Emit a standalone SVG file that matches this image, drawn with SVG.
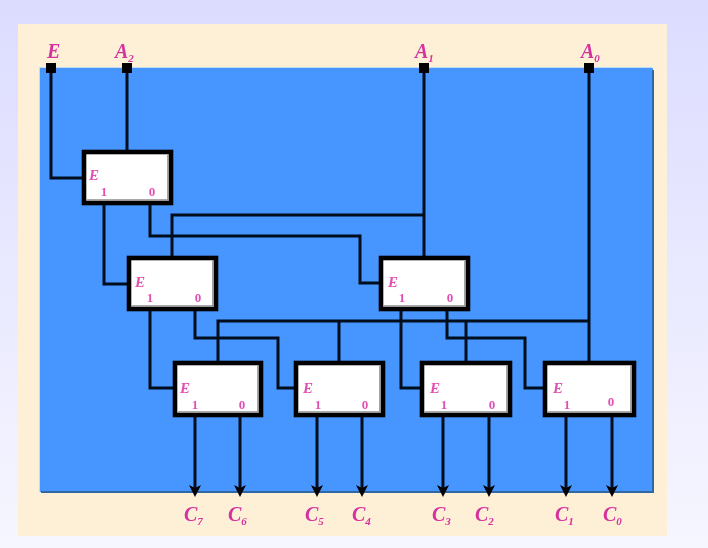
<svg xmlns="http://www.w3.org/2000/svg" width="708" height="548" viewBox="0 0 708 548">
<style>
.w{fill:none;stroke:#030c1e;stroke-width:3;stroke-linejoin:miter}
.o{fill:none;stroke:#030c1e;stroke-width:3}
.b{fill:#fff;stroke:#030303;stroke-width:4.600}
.h{fill:none;stroke:#8f8f8f;stroke-width:1.600}
.t{font-family:"Liberation Serif",serif;font-style:italic;font-weight:bold;fill:#d6339f}
.lab{font-size:20px}
.sub{font-size:11px}
.e{font-size:15px;fill:#e250b2}
.n{font-family:"Liberation Serif",serif;font-weight:bold;font-size:13px;fill:#e250b2;text-anchor:middle}
</style>
<defs>
<linearGradient id="bg" x1="0" y1="0" x2="0" y2="1"><stop offset="0" stop-color="#dcdcff"/><stop offset="1" stop-color="#f6f6ff"/></linearGradient>
<filter id="soft" x="0" y="0" width="1" height="1"><feGaussianBlur stdDeviation="0.5"/></filter>
<g id="arr"><path d="M-6 -12L0 -9L6 -12L1.500 -3L0 0L-1.500 -3Z" fill="#030303"/></g>
</defs>
<rect width="708" height="548" fill="url(#bg)"/>
<g filter="url(#soft)">
<rect x="18" y="24" width="649" height="512" fill="#fdf0d6"/>
<rect x="40" y="68" width="613" height="424" fill="#4696ff"/>
<path d="M39.500 492V67.500H652" fill="none" stroke="#c0dcf2" stroke-width="1"/>
<path d="M653 70V492H41" fill="none" stroke="#2f68a5" stroke-width="2"/>

<g id="connectors">
<path class="w" d="M51 68V178H84"/>
<path class="w" d="M127 68V152"/>
<path class="w" d="M424 68V258"/>
<path class="w" d="M589 68V362"/>
<path class="w" d="M424 215H172V258"/>
<path class="w" d="M104 204V284H129"/>
<path class="w" d="M150 204V236H360V283H381"/>
<path class="w" d="M150 310V388H175"/>
<path class="w" d="M195 310V338H278V388H296"/>
<path class="w" d="M589 321H218V362"/>
<path class="w" d="M339 321V362"/>
<path class="w" d="M466 321V362"/>
<path class="w" d="M401 310V388H422"/>
<path class="w" d="M447 310V338H525V388H545"/>
<path class="o" d="M195 416V490"/><use href="#arr" x="195" y="497"/>
<path class="o" d="M240 416V490"/><use href="#arr" x="240" y="497"/>
<path class="o" d="M317 416V490"/><use href="#arr" x="317" y="497"/>
<path class="o" d="M362 416V490"/><use href="#arr" x="362" y="497"/>
<path class="o" d="M443 416V490"/><use href="#arr" x="443" y="497"/>
<path class="o" d="M489 416V490"/><use href="#arr" x="489" y="497"/>
<path class="o" d="M566 416V490"/><use href="#arr" x="566" y="497"/>
<path class="o" d="M612 416V490"/><use href="#arr" x="612" y="497"/>
<rect x="46" y="63" width="10" height="10" fill="#030303"/>
<rect x="122" y="63" width="10" height="10" fill="#030303"/>
<rect x="419" y="63" width="10" height="10" fill="#030303"/>
<rect x="584" y="63" width="10" height="10" fill="#030303"/>
</g>

<g id="decoder-top">
<rect class="b" x="84" y="152" width="87" height="51"/>
<path class="h" d="M87 200H168V155"/>
<text class="t e" x="89" y="180">E</text><text class="n" x="104" y="196">1</text><text class="n" x="152" y="196">0</text>
</g>
<g id="decoder-mid-left">
<rect class="b" x="129" y="258" width="87" height="51"/>
<path class="h" d="M132 306H213V261"/>
<text class="t e" x="135" y="287">E</text><text class="n" x="150" y="302">1</text><text class="n" x="198" y="302">0</text>
</g>
<g id="decoder-mid-right">
<rect class="b" x="381" y="258" width="87" height="51"/>
<path class="h" d="M384 306H465V261"/>
<text class="t e" x="388" y="287">E</text><text class="n" x="402" y="302">1</text><text class="n" x="450" y="302">0</text>
</g>
<g id="decoder-c7-c6">
<rect class="b" x="175" y="363" width="86" height="52"/>
<path class="h" d="M178 412H258V366"/>
<text class="t e" x="180" y="393">E</text><text class="n" x="195" y="409">1</text><text class="n" x="242" y="409">0</text>
</g>
<g id="decoder-c5-c4">
<rect class="b" x="296" y="363" width="87" height="52"/>
<path class="h" d="M299 412H380V366"/>
<text class="t e" x="303" y="393">E</text><text class="n" x="318" y="409">1</text><text class="n" x="365" y="409">0</text>
</g>
<g id="decoder-c3-c2">
<rect class="b" x="422" y="363" width="88" height="52"/>
<path class="h" d="M425 412H507V366"/>
<text class="t e" x="430" y="393">E</text><text class="n" x="444" y="409">1</text><text class="n" x="492" y="409">0</text>
</g>
<g id="decoder-c1-c0">
<rect class="b" x="545" y="363" width="89" height="52"/>
<path class="h" d="M548 412H631V366"/>
<text class="t e" x="553" y="393">E</text><text class="n" x="567" y="409">1</text><text class="n" x="611" y="406">0</text>
</g>

<g id="input-labels">
<text class="t lab" x="47" y="58">E</text>
<text class="t lab" x="115" y="58">A<tspan class="sub" dy="4">2</tspan></text>
<text class="t lab" x="415" y="58">A<tspan class="sub" dy="4">1</tspan></text>
<text class="t lab" x="581" y="58">A<tspan class="sub" dy="4">0</tspan></text>
</g>
<g id="output-labels">
<text class="t lab" x="184" y="521">C<tspan class="sub" dy="4">7</tspan></text>
<text class="t lab" x="228" y="521">C<tspan class="sub" dy="4">6</tspan></text>
<text class="t lab" x="305" y="521">C<tspan class="sub" dy="4">5</tspan></text>
<text class="t lab" x="352" y="521">C<tspan class="sub" dy="4">4</tspan></text>
<text class="t lab" x="432" y="521">C<tspan class="sub" dy="4">3</tspan></text>
<text class="t lab" x="475" y="521">C<tspan class="sub" dy="4">2</tspan></text>
<text class="t lab" x="555" y="521">C<tspan class="sub" dy="4">1</tspan></text>
<text class="t lab" x="603" y="521">C<tspan class="sub" dy="4">0</tspan></text>
</g>
</g>
</svg>
